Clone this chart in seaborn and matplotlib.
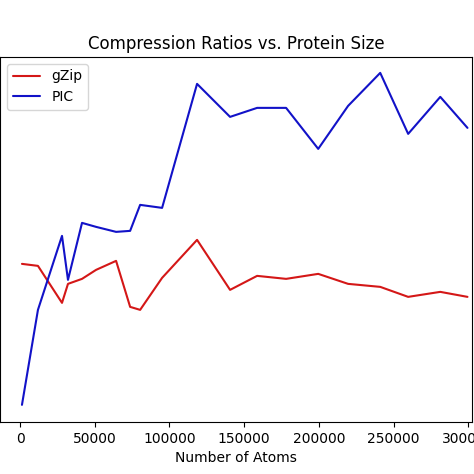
import matplotlib
matplotlib.use("Agg")
import matplotlib.pyplot as plt
import seaborn as sns
import pandas as pd

atoms = [1300, 12000, 28100, 32100, 41500, 50900, 64300, 73700, 80400, 95100,
         118500, 140600, 158700, 178100, 199600, 219600, 241100, 259800, 281300, 299500]
gzip_ratio = [1.58, 1.56, 1.19, 1.38, 1.43, 1.52, 1.61, 1.15, 1.12, 1.44,
              1.82, 1.32, 1.46, 1.43, 1.48, 1.38, 1.35, 1.25, 1.30, 1.25]
pic_ratio = [0.17, 1.12, 1.86, 1.42, 1.99, 1.95, 1.90, 1.91, 2.17, 2.14,
             3.38, 3.05, 3.14, 3.14, 2.73, 3.16, 3.49, 2.88, 3.25, 2.94]

df = pd.DataFrame({
    "atoms": atoms * 2,
    "ratio": gzip_ratio + pic_ratio,
    "method": ["gZip"] * len(atoms) + ["PIC"] * len(atoms),
})

sns.set_style("ticks", {"text.color": "black", "xtick.color": "black",
                        "axes.labelcolor": "black", "axes.edgecolor": "black"})
fig = plt.figure(figsize=(4.74, 4.74), dpi=100)
ax = fig.add_axes([0.0, 0.11, 0.996, 0.77])
sns.lineplot(data=df, x="atoms", y="ratio", hue="method",
             palette={"gZip": "#d41717", "PIC": "#1212c8"}, ax=ax, linewidth=1.5)
ax.set_xlim(-13400, 302600)
ax.set_ylim(0, 3.65)
ax.set_xticks([0, 50000, 100000, 150000, 200000, 250000, 300000])
ax.set_yticks([])
ax.set_ylabel("")
ax.set_xlabel("Number of Atoms", fontsize=10)
ax.set_title("Compression Ratios vs. Protein Size", fontsize=12)
ax.legend(title=None, loc="upper left", fontsize=10)
fig.savefig("out.png", dpi=100)
